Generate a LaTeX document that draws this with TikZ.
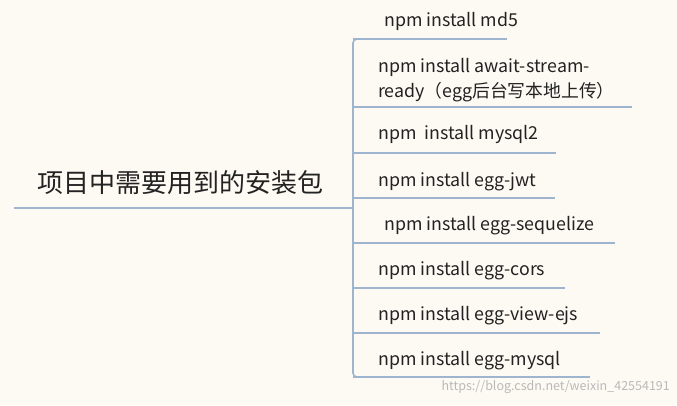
\documentclass[tikz,border=0pt]{standalone}
\usepackage{fontspec}
\setmainfont{Noto Sans CJK SC}
\begin{document}
\begin{tikzpicture}[x=1pt,y=-1pt,
  br/.style={draw=lineC,line width=1.6pt},
  item/.style={anchor=base west,inner sep=0pt,font=\fontsize{17.8}{25}\selectfont,text=txtC,align=left}]
\definecolor{lineC}{HTML}{9FB4CF}
\definecolor{txtC}{HTML}{222222}
\definecolor{bgC}{HTML}{FDFAF3}
\fill[bgC] (0,0) rectangle (677,405);
\useasboundingbox (0,0) rectangle (677,405);
\node[anchor=base,inner sep=0pt,font=\fontsize{26}{30}\selectfont,text=txtC] (root) at (180,192) {项目中需要用到的安装包};
\draw[br] (14,208) -- (353,208);
\draw[br,rounded corners=4pt] (368,39) -- (353,39) -- (353,377) -- (368,377);
\node[item] (a) at (384,26) {npm install md5};
\node[item] (b) at (378,97) {npm install await-stream-\\ready（egg后台写本地上传）};
\node[item] (c) at (378,139) {npm\ \ install mysql2};
\node[item] (d) at (378,186) {npm install egg-jwt};
\node[item] (e) at (384,230) {npm install egg-sequelize};
\node[item] (f) at (378,275) {npm install egg-cors};
\node[item] (g) at (378,320) {npm install egg-view-ejs};
\node[item] (h) at (378,365) {npm install egg-mysql};
\foreach \y/\e in {39/507,107/632,153/556,198/555,243/615,288/565,333/600,377/590}
  \draw[br] (353,\y) -- (\e,\y);
\node[anchor=base east,inner sep=0pt,font=\fontsize{12.5}{14}\selectfont,text=gray!55] (wm) at (670,390) {https://blog.csdn.net/weixin\_42554191};
\end{tikzpicture}
\end{document}
